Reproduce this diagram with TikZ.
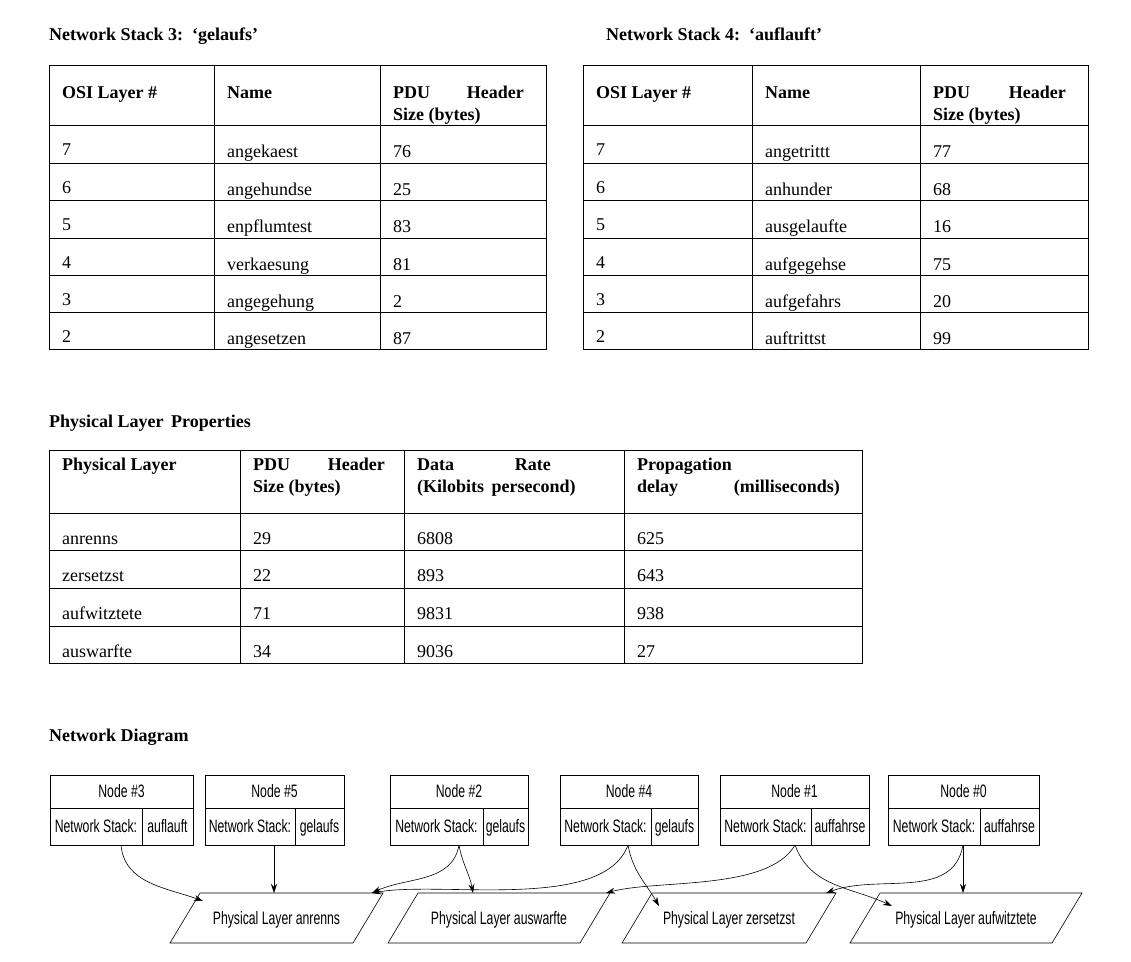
\documentclass[tikz,border=0pt]{standalone}
\usepackage{fontspec}
\setmainfont{Liberation Serif}
\newfontfamily\diafont{Liberation Sans}
\usetikzlibrary{arrows.meta}
\newcommand{\nar}[1]{\scalebox{0.68}[1]{#1}}
\begin{document}
\begin{tikzpicture}[x=1pt,y=-1pt,
  tl/.style={line width=1pt},
  ct/.style={anchor=base west,inner sep=0pt,font=\fontsize{18}{20}\selectfont},
  hd/.style={anchor=base west,inner sep=0pt,font=\fontsize{18}{20}\selectfont\bfseries},
  dt/.style={anchor=base,inner sep=0pt,font=\diafont\fontsize{18}{20}\selectfont},
  ar/.style={-{Stealth[length=9pt,width=6pt]},line width=0.6pt}]
\useasboundingbox[fill=white] (0,0) rectangle (1131,961);
% titles
\node[hd] (t1) at (49,40) {Network Stack 3: \,`gelaufs'};
\node[hd] (t2) at (606,40) {Network Stack 4: \,`auflauft'};
\node[hd] (t3) at (49,427) {Physical Layer \,Properties};
\node[hd] (t4) at (49,741) {Network Diagram};
% tables 1 and 2
\foreach \X/\a/\b/\c in {49/214/380/546, 583/752/920/1088}{
  \draw[tl] (\X,65) rectangle (\c,349);
  \foreach \y in {125,163,200,238,275,312} \draw[tl] (\X,\y) -- (\c,\y);
  \draw[tl] (\a,65) -- (\a,349); \draw[tl] (\b,65) -- (\b,349);
  \node[hd] at (\X+13,98) {OSI Layer \#};
  \node[hd] at (\a+13,98) {Name};
  \node[hd] at (\b+13,98) {PDU};
  \node[hd,anchor=base east] at (\c-22,98) {Header};
  \node[hd] at (\b+13,120) {Size (bytes)};
}
\foreach \n/\t/\s [count=\i] in {7/angekaest/76,6/angehundse/25,5/enpflumtest/83,4/verkaesung/81,3/angegehung/2,2/angesetzen/87}{
  \pgfmathsetmacro\yy{{125,163,200,238,275,312}[\i-1]+32}
  \node[ct] at (62,\yy-2) {\n}; \node[ct] at (227,\yy) {\t}; \node[ct] at (393,\yy) {\s};}
\foreach \n/\t/\s [count=\i] in {7/angetrittt/77,6/anhunder/68,5/ausgelaufte/16,4/aufgegehse/75,3/aufgefahrs/20,2/auftrittst/99}{
  \pgfmathsetmacro\yy{{125,163,200,238,275,312}[\i-1]+32}
  \node[ct] at (596,\yy-2) {\n}; \node[ct] at (765,\yy) {\t}; \node[ct] at (933,\yy) {\s};}
% table 3
\draw[tl] (49,450) rectangle (862,663);
\foreach \y in {513,550,588,626} \draw[tl] (49,\y) -- (862,\y);
\foreach \x in {240,404,624} \draw[tl] (\x,450) -- (\x,663);
\node[hd] at (62,470) {Physical Layer};
\node[hd] at (253,470) {PDU};\node[hd,anchor=base east] at (385,470) {Header};
\node[hd] at (253,492) {Size (bytes)};
\node[hd] at (417,470) {Data};\node[hd,anchor=base east] at (551,470) {Rate};
\node[hd] at (417,492) {(Kilobits \,persecond)};
\node[hd] at (637,470) {Propagation};
\node[hd] at (637,492) {delay};\node[hd,anchor=base east] at (840,492) {(milliseconds)};
\foreach \a/\b/\c/\d [count=\i] in {anrenns/29/6808/625,zersetzst/22/893/643,aufwitztete/71/9831/938,auswarfte/34/9036/27}{
  \pgfmathsetmacro\yy{{513,550,588,626}[\i-1]+31}
  \node[ct] at (62,\yy) {\a};\node[ct] at (253,\yy) {\b};\node[ct] at (417,\yy) {\c};\node[ct] at (637,\yy) {\d};}
% diagram nodes
\foreach \nm/\lab/\l/\m/\r/\st in {n3/3/50/142/193/auflauft, n5/5/205/295/344/gelaufs, n2/2/390/483/528/gelaufs, n4/4/560/651/698/gelaufs, n1/1/720/811/869/auffahrse, n0/0/888/980/1039/auffahrse}{
  \draw[line width=0.6pt] (\l,775) rectangle (\r,845);
  \draw[line width=0.6pt] (\l,808) -- (\r,808); \draw[line width=0.6pt] (\m,808) -- (\m,845);
  \node[dt] (\nm t) at ({(\l+\r)/2},797) {\nar{Node \#\lab}};
  \node[dt] (\nm a) at ({(\l+\m)/2},832) {\nar{Network Stack:}};
  \node[dt] (\nm b) at ({(\m+\r)/2},832) {\nar{\st}};
}
\foreach \nm/\tl/\tr/\bl/\br/\lab in {pa/200/383/170/353/anrenns, pu/418/610/388/580/auswarfte, pz/652/836/622/806/zersetzst, pf/880/1082/850/1052/aufwitztete}{
  \draw[line width=0.6pt] (\tl,893) -- (\tr,893) -- (\br,943) -- (\bl,943) -- cycle;
  \node[dt] (\nm) at ({(\tl+\br)/2},924) {\nar{Physical Layer \lab}};
}
\coordinate (s3) at (121,845); \coordinate (s5) at (274,845); \coordinate (s2) at (459,845);
\coordinate (s4) at (628,845); \coordinate (s1) at (795,845); \coordinate (s0) at (963,845);
\coordinate (pa1) at (203,901); \coordinate (pa2) at (274,893); \coordinate (pa3) at (372,893);
\coordinate (pu1) at (473,893); \coordinate (pu2) at (606,893);
\coordinate (pz1) at (659,906); \coordinate (pz2) at (826,893);
\coordinate (pf1) at (892,906); \coordinate (pf2) at (963,893);
\draw[ar] (s3) to[out=-85,in=160] (pa1);
\draw[ar] (s5) -- (pa2);
\draw[ar] (s2) to[out=-100,in=25] (pa3);
\draw[ar] (s2) to[out=-80,in=100] (pu1);
\draw[ar] (s4) to[out=-110,in=10,looseness=0.7] (pa3);
\draw[ar] (s4) to[out=-80,in=120] (pz1);
\draw[ar] (s1) to[out=-120,in=15,looseness=0.7] (pu2);
\draw[ar] (s1) to[out=-70,in=155] (pf1);
\draw[ar] (s0) to[out=-100,in=20] (pz2);
\draw[ar] (s0) -- (pf2);
\end{tikzpicture}
\end{document}
